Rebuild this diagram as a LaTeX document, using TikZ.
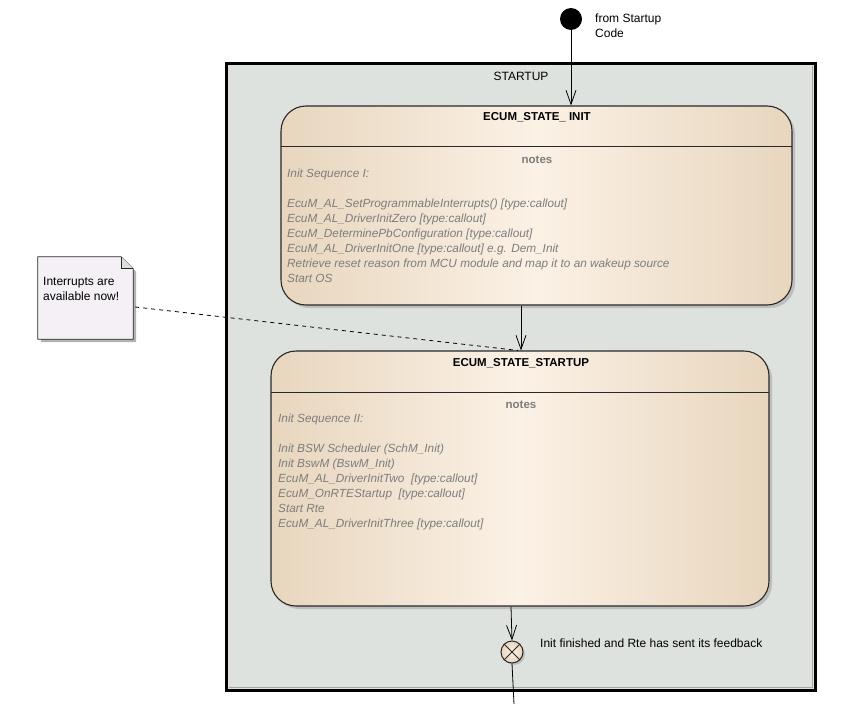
\documentclass[tikz,border=0pt]{standalone}
\usepackage{fontspec}
\setmainfont{Liberation Sans}
\usetikzlibrary{arrows.meta,calc}
\definecolor{outerfill}{RGB}{222,226,223}
\definecolor{beigeedge}{RGB}{232,214,190}
\definecolor{beigemid}{RGB}{251,241,229}
\definecolor{notefill}{RGB}{244,240,245}
\definecolor{notestext}{RGB}{125,125,125}
\definecolor{stateborder}{RGB}{40,40,40}
\definecolor{shadowgray}{RGB}{190,190,190}
\tikzset{
  statebox/.style={rectangle, rounded corners=25pt, draw=stateborder, line width=1.1pt,
    left color=beigeedge, right color=beigeedge, middle color=beigemid, inner sep=0pt},
  titletext/.style={font=\fontsize{11.5}{13}\selectfont\bfseries, inner sep=0pt},
  notehead/.style={font=\fontsize{11.5}{13}\selectfont\bfseries, text=notestext, inner sep=0pt},
  notelines/.style={font=\fontsize{11.8}{15}\selectfont\itshape, text=notestext, align=left, inner sep=0pt, anchor=base west},
  plaintext/.style={font=\fontsize{12}{15}\selectfont, align=left, inner sep=0pt},
  trans/.style={line width=0.8pt, -{Straight Barb[length=14pt,width=10pt,line width=0.8pt]}},
}
\begin{document}
\begin{tikzpicture}[x=1pt,y=-1pt]
\useasboundingbox (0,0) rectangle (860,704);
% outer composite state
\draw[line width=3pt, fill=outerfill] (226,63) rectangle (815,690);
\draw[gray!70, line width=0.8pt] (228.5,687.5) -- (812.5,687.5) -- (812.5,65.5);
\node[plaintext] (outerlabel) at (521,76) {STARTUP};
\coordinate (x521) at (521,0);
\coordinate (x511) at (511,0);
\coordinate (x518) at (518,0);
% initial
\node[circle, fill=black, minimum size=22pt, inner sep=0pt] (start) at (571,19) {};
\node[plaintext, anchor=base west] (startlabel) at (595,37) {from Startup\\Code};
% state INIT
\fill[shadowgray] (284,109) [rounded corners=25pt] rectangle (795,308);
\node[statebox, minimum width=511pt, minimum height=199pt] (init) at (536.5,205.5) {};
\draw[stateborder, line width=1pt] (281,146) -- (792,146);
\node[titletext] (initt) at (537,117) {ECUM\_STATE\_ INIT};
\node[notehead] (initn) at (537,160) {notes};
\node[notelines] (initl) at (287,282) {Init Sequence I:\\\mbox{}\\
EcuM\_AL\_SetProgrammableInterrupts() [type:callout]\\
EcuM\_AL\_DriverInitZero [type:callout]\\
EcuM\_DeterminePbConfiguration [type:callout]\\
EcuM\_AL\_DriverInitOne [type:callout] e.g. Dem\_Init\\
Retrieve reset reason from MCU module and map it to an wakeup source\\
Start OS};
% state STARTUP
\fill[shadowgray] (274,354) [rounded corners=25pt] rectangle (772,609);
\node[statebox, minimum width=498pt, minimum height=255pt] (stup) at (520,478.5) {};
\draw[stateborder, line width=1pt] (271,392) -- (769,392);
\node[titletext] (stupt) at (521,363) {ECUM\_STATE\_STARTUP};
\node[notehead] (stupn) at (521,405) {notes};
\node[notelines] (stupl) at (278,527) {Init Sequence II:\\\mbox{}\\
Init BSW Scheduler (SchM\_Init)\\
Init BswM (BswM\_Init)\\
EcuM\_AL\_DriverInitTwo~~[type:callout]\\
EcuM\_OnRTEStartup~~[type:callout]\\
Start Rte\\
EcuM\_AL\_DriverInitThree [type:callout]};
% exit point
\fill[shadowgray] (514,654) circle (11);
\node[circle, minimum size=22pt, inner sep=0pt, draw=stateborder, line width=1pt,
  inner color=beigemid, outer color=beigeedge] (exitp) at (512,652) {};
\draw[stateborder, line width=1pt] (exitp.north west) -- (exitp.south east)
  (exitp.north east) -- (exitp.south west);
\node[plaintext, anchor=base west] (exitlabel) at (540,647) {Init finished and Rte has sent its feedback};
\coordinate (endpt) at (514,704);
% transitions
\draw[trans] (start) -- (start |- init.north);
\draw[trans] (init.south -| x521) -- (stup.north -| x521);
\draw[trans] (stup.south -| x511) -- (exitp.north);
\draw[line width=0.8pt] (exitp.south) -- (endpt);
% note
\node[minimum width=95pt, minimum height=82pt, inner sep=0pt] (note) at (85.5,298) {};
\fill[gray!60] ($(note.north west)+(3,3)$) -- ($(note.north east)+(-9,3)$) -- ($(note.north east)+(3,15)$)
  -- ($(note.south east)+(3,3)$) -- ($(note.south west)+(3,3)$) -- cycle;
\draw[stateborder, fill=notefill, line width=0.8pt] (note.north west) -- ($(note.north east)+(-12,0)$) -- ($(note.north east)+(0,12)$)
  -- (note.south east) -- (note.south west) -- cycle;
\draw[stateborder, fill=gray!25, line width=0.8pt] ($(note.north east)+(-12,0)$) -- ($(note.north east)+(-12,12)$) -- ($(note.north east)+(0,12)$);
\node[plaintext, anchor=base west] (notetext) at (43,300) {Interrupts are\\available now!};
\draw[dashed, dash pattern=on 4pt off 4pt, line width=0.8pt] ($(note.east)+(2,9)$) -- (stup.north -| x518);
\end{tikzpicture}
\end{document}
